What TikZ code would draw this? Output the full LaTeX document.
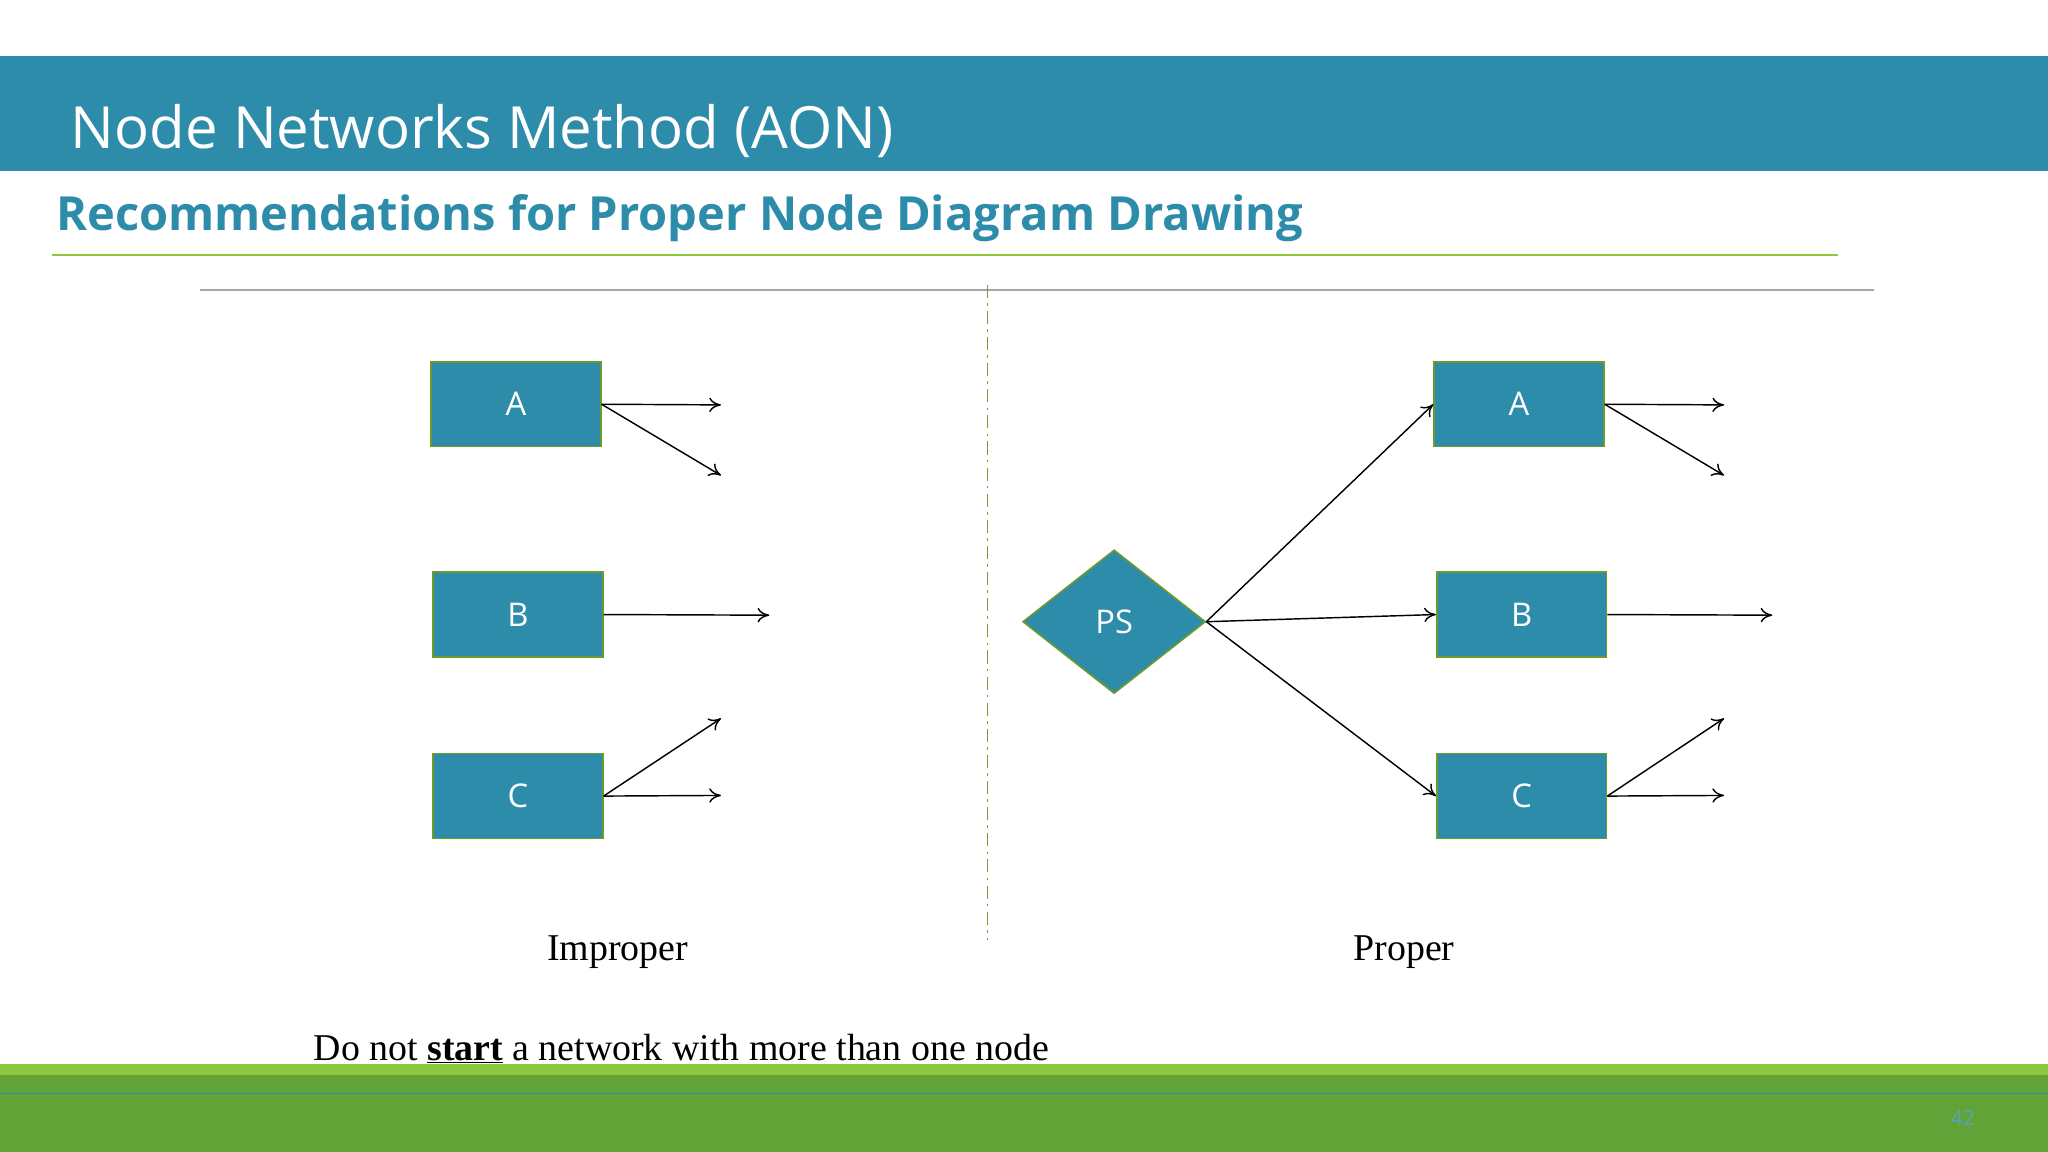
\documentclass[tikz,border=0pt]{standalone}
\usepackage{fontspec}
\setmainfont{Liberation Serif}
\newfontfamily\osans{Open Sans}
\usetikzlibrary{shapes.geometric,arrows.meta}
\definecolor{teal}{HTML}{2E8CAB}
\definecolor{lgreen}{HTML}{8DC63F}
\definecolor{dgreen}{HTML}{62A337}
\definecolor{edgeg}{HTML}{6E9A2A}
\tikzset{
 boxn/.style={draw=edgeg,fill=teal,line width=1.2pt,minimum width=130pt,minimum height=65pt,text=white,font=\osans\fontsize{25}{28}\selectfont,inner sep=0},
 arr/.style={-{To[length=9pt,width=11pt]},line width=1.1pt}
}
\begin{document}
\begin{tikzpicture}[x=1pt,y=-1pt]
\useasboundingbox (0,0) rectangle (1568,882);
\fill[white] (0,0) rectangle (1568,882);
\fill[teal] (0,43) rectangle (1568,131);
\node[anchor=west,text=white,font=\osans\fontsize{44.5}{50}\selectfont,inner sep=0] (title) at (54,100) {Node Networks Method (AON)};
\node[anchor=west,text=teal,font=\osans\bfseries\fontsize{36}{40}\selectfont,inner sep=0] (sub) at (43,167) {Recommendations for Proper Node Diagram Drawing};
\draw[lgreen,line width=1.5pt] (40,195) -- (1407,195);
\draw[gray!70,line width=1.2pt] (153,222) -- (1435,222);
\draw[lgreen!80!black,line width=1.4pt,dash pattern=on 10pt off 4pt on 2pt off 4pt] (756,218) -- (756,720);
% left
\node[boxn] (la) at (395,309.5) {A};
\node[boxn] (lb) at (396.5,470.5) {B};
\node[boxn] (lc) at (396.5,609.5) {C};
\coordinate (la1) at (552,310); \coordinate (la2) at (552,364);
\coordinate (lb1) at (589,471);
\coordinate (lc1) at (552,550); \coordinate (lc2) at (552,609);
\draw[arr] (la.east) -- (la1); \draw[arr] (la.east) -- (la2);
\draw[arr] (lb.east) -- (lb1);
\draw[arr] (lc.east) -- (lc1); \draw[arr] (lc.east) -- (lc2);
% right
\node[boxn] (ra) at (1163,309.5) {A};
\node[boxn] (rb) at (1165,470.5) {B};
\node[boxn] (rc) at (1165,609.5) {C};
\node[diamond,draw=edgeg,fill=teal,line width=1.2pt,minimum width=140pt,minimum height=110pt,inner sep=0,aspect=1.27,text=white,font=\osans\fontsize{25}{28}\selectfont] (ps) at (853,476) {PS};
\coordinate (ra1) at (1320,310); \coordinate (ra2) at (1320,364);
\coordinate (rb1) at (1357,471);
\coordinate (rc1) at (1320,550); \coordinate (rc2) at (1320,609);
\draw[arr] (ra.east) -- (ra1); \draw[arr] (ra.east) -- (ra2);
\draw[arr] (rb.east) -- (rb1);
\draw[arr] (rc.east) -- (rc1); \draw[arr] (rc.east) -- (rc2);
\draw[arr] (ps.east) -- (ra.west);
\draw[arr] (ps.east) -- (rb.west);
\draw[arr] (ps.east) -- (rc.west);
\node[font=\fontsize{29}{32}\selectfont] (imp) at (473,729) {Improper};
\node[font=\fontsize{29}{32}\selectfont] (pro) at (1075,729) {Proper};
% bottom bands
\fill[lgreen] (0,815) rectangle (1568,823);
\fill[dgreen] (0,823) rectangle (1568,882);
\draw[teal,line width=1pt] (0,837) -- (1568,837);
\node[text=teal!80,font=\osans\fontsize{16}{18}\selectfont] (pg) at (1503,856) {42};
\node[anchor=west,font=\fontsize{29}{32}\selectfont,inner sep=0] (note) at (240,803) {Do not \underline{\textbf{start}} a network with more than one node};
\end{tikzpicture}
\end{document}
